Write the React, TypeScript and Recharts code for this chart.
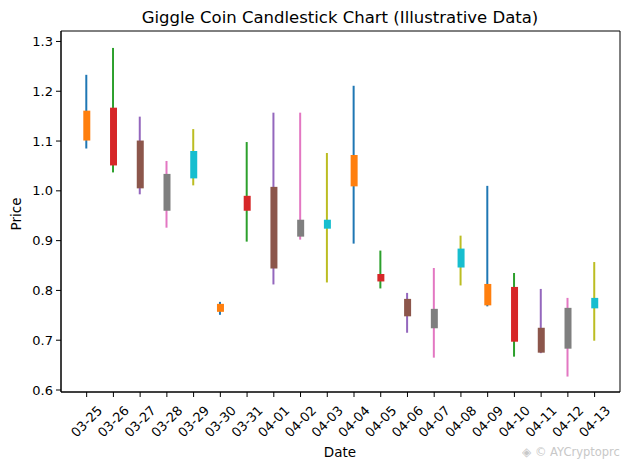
import { Bar, Cell, ComposedChart, ReferenceArea, XAxis, YAxis } from "recharts";

const dates = [
  "03-25", "03-26", "03-27", "03-28", "03-29", "03-30", "03-31",
  "04-01", "04-02", "04-03", "04-04", "04-05", "04-06", "04-07",
  "04-08", "04-09", "04-10", "04-11", "04-12", "04-13",
];
const highs = [
  1.233, 1.287, 1.149, 1.06, 1.124, 0.777, 1.098, 1.157, 1.157, 1.076,
  1.211, 0.88, 0.795, 0.845, 0.91, 1.01, 0.835, 0.803, 0.785, 0.857,
];
const lows = [
  1.085, 1.037, 0.993, 0.926, 1.011, 0.751, 0.898, 0.812, 0.902, 0.816,
  0.894, 0.804, 0.715, 0.665, 0.81, 0.768, 0.667, 0.674, 0.627, 0.699,
];
const bodyHighs = [
  1.161, 1.167, 1.101, 1.034, 1.08, 0.773, 0.99, 1.008, 0.942, 0.942,
  1.072, 0.833, 0.783, 0.763, 0.884, 0.813, 0.807, 0.725, 0.765, 0.785,
];
const bodyLows = [
  1.101, 1.051, 1.005, 0.96, 1.025, 0.757, 0.96, 0.844, 0.908, 0.924,
  1.009, 0.818, 0.748, 0.724, 0.846, 0.77, 0.697, 0.675, 0.683, 0.764,
];
const priceTicks = [0.6, 0.7, 0.8, 0.9, 1.0, 1.1, 1.2, 1.3];

// matplotlib tab10 — wick and body take consecutive colors from the cycle
const TAB10 = [
  "#1f77b4", "#ff7f0e", "#2ca02c", "#d62728", "#9467bd",
  "#8c564b", "#e377c2", "#7f7f7f", "#bcbd22", "#17becf",
];

const FONT = "DejaVu Sans, sans-serif";
const X_DOMAIN: [number, number] = [-0.96, 19.95];
const Y_DOMAIN: [number, number] = [0.596, 1.321];

const rows = dates.map((date, i) => ({
  i,
  date,
  wick: [lows[i], highs[i]],
  body: [bodyLows[i], bodyHighs[i]],
}));

function DateTick({ x, y, payload }: any) {
  const cy = y + 21.5;
  return (
    <text
      x={x}
      y={cy}
      textAnchor="middle"
      dominantBaseline="central"
      transform={`rotate(-45, ${x}, ${cy})`}
      fontSize={13}
      fontFamily={FONT}
      fill="#000"
    >
      {dates[payload.value]}
    </text>
  );
}

export default function App() {
  return (
    <div style={{ position: "absolute", left: 0, top: 0, width: 630, height: 470, background: "#fff", fontFamily: FONT }}>
      <div
        style={{
          position: "absolute", left: 340, top: 8, transform: "translateX(-50%)",
          fontSize: 16.5, lineHeight: "20px", whiteSpace: "nowrap", color: "#000",
        }}
      >
        Giggle Coin Candlestick Chart (Illustrative Data)
      </div>
      <ComposedChart
        width={630}
        height={470}
        data={rows}
        margin={{ top: 31, right: 10, bottom: 0, left: 0 }}
      >
        {/* bottom axis carries the wicks, a hidden top one the bodies, so they don't sit side by side */}
        <XAxis
          xAxisId="x"
          dataKey="i"
          type="number"
          domain={X_DOMAIN}
          ticks={rows.map((r) => r.i)}
          interval={0}
          height={78}
          tickSize={5}
          tickMargin={3}
          tick={<DateTick />}
          stroke="#000"
          allowDataOverflow
        />
        <XAxis
          xAxisId="b"
          orientation="top"
          dataKey="i"
          type="number"
          domain={X_DOMAIN}
          height={0}
          hide
          allowDataOverflow
        />
        <YAxis
          yAxisId="l"
          type="number"
          domain={Y_DOMAIN}
          ticks={priceTicks}
          width={61}
          tickSize={5}
          tickMargin={3}
          tickFormatter={(v: number) => v.toFixed(1)}
          tick={{ fontSize: 13, fontFamily: FONT, fill: "#000" }}
          stroke="#000"
          allowDataOverflow
        />
        <ReferenceArea
          xAxisId="x"
          yAxisId="l"
          x1={X_DOMAIN[0]}
          x2={X_DOMAIN[1]}
          y1={Y_DOMAIN[0]}
          y2={Y_DOMAIN[1]}
          fill="none"
          stroke="#000"
          strokeWidth={1}
          fillOpacity={0}
          strokeOpacity={1}
          ifOverflow="visible"
        />
        <Bar xAxisId="x" yAxisId="l" dataKey="wick" barSize={2} isAnimationActive={false}>
          {rows.map((r) => (
            <Cell key={r.date} fill={TAB10[(2 * r.i) % 10]} />
          ))}
        </Bar>
        <Bar xAxisId="b" yAxisId="l" dataKey="body" barSize={7} isAnimationActive={false}>
          {rows.map((r) => (
            <Cell key={r.date} fill={TAB10[(2 * r.i + 1) % 10]} />
          ))}
        </Bar>
      </ComposedChart>
      <div
        style={{
          position: "absolute", left: 340, top: 442, transform: "translateX(-50%)",
          fontSize: 13.5, lineHeight: "20px", color: "#000",
        }}
      >
        Date
      </div>
      <div
        style={{
          position: "absolute", left: 16, top: 214, transform: "translate(-50%, -50%) rotate(-90deg)",
          fontSize: 13.5, lineHeight: "18px", color: "#000",
        }}
      >
        Price
      </div>
      <div
        style={{
          position: "absolute", left: 522, top: 444, fontSize: 11.5, lineHeight: "16px",
          color: "#c8c8c8", whiteSpace: "nowrap", width: 108, overflow: "hidden",
        }}
      >
        <span style={{ fontSize: 12 }}>◈</span> © AYCryptoprc
      </div>
    </div>
  );
}
